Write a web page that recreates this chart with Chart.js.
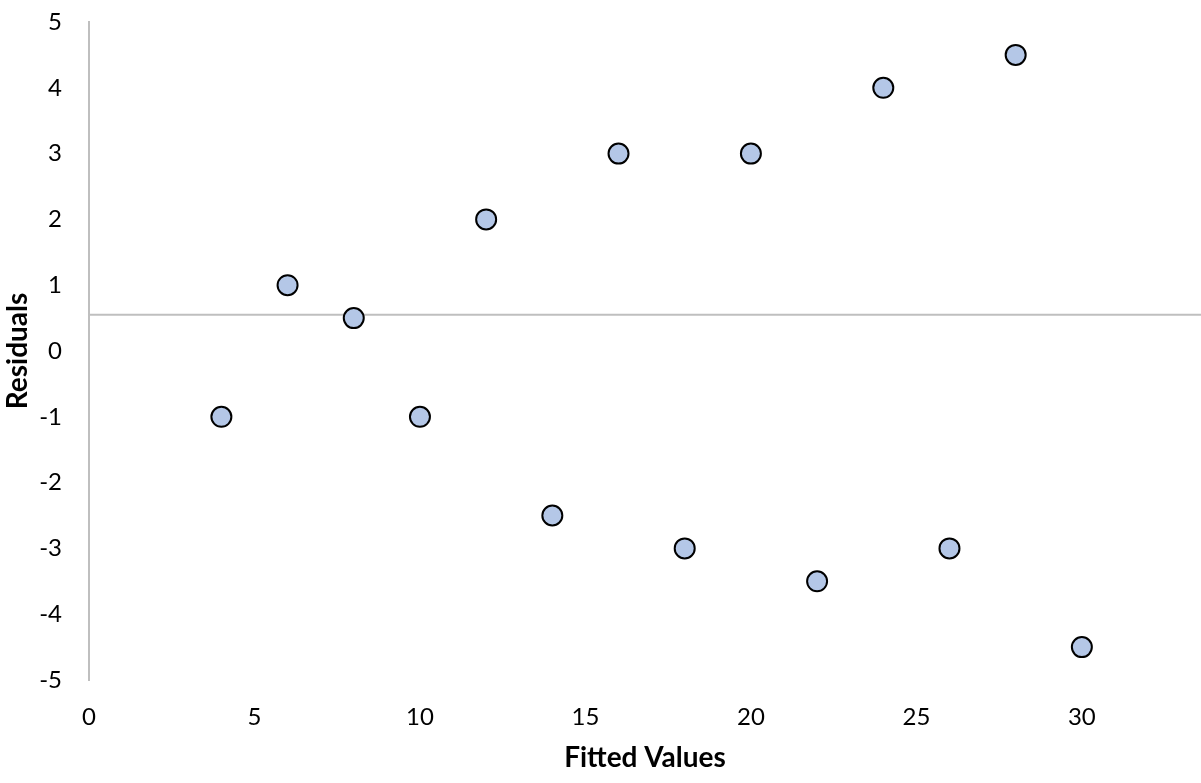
<!DOCTYPE html>
<html>
<head>
<meta charset="utf-8">
<script src="https://cdn.jsdelivr.net/npm/chart.js@4.4.0/dist/chart.umd.min.js"></script>
<style>
html,body{margin:0;padding:0;background:#fff;}
#wrap{width:1201px;height:783px;position:relative;}
</style>
</head>
<body>
<div id="wrap"><canvas id="c" width="1201" height="783"></canvas></div>
<script>
const fittedValues = [4, 6, 8, 10, 12, 14, 16, 18, 20, 22, 24, 26, 28, 30];
const residuals = [-1, 1, 0.5, -1, 2, -2.5, 3, -3, 3, -3.5, 4, -3, 4.5, -4.5];
const xTicks = [0, 5, 10, 15, 20, 25, 30];
const yTicks = [-5, -4, -3, -2, -1, 0, 1, 2, 3, 4, 5];
const xRange = [0, 33.6];
const yRange = [-5, 5];
const refLineY = 0.55;

const FONT = "Lato, 'Open Sans', sans-serif";

new Chart(document.getElementById('c'), {
  data: {
    datasets: [
      {
        type: 'scatter',
        data: fittedValues.map((x, i) => ({x: x, y: residuals[i]})),
        backgroundColor: '#b4c7e7',
        borderColor: '#000000',
        borderWidth: 2,
        pointRadius: 10,
        pointHoverRadius: 10,
        order: 1
      },
      {
        type: 'line',
        data: xRange.map(x => ({x: x, y: refLineY})),
        borderColor: '#bfbfbf',
        borderWidth: 2,
        pointRadius: 0,
        fill: false,
        order: 2
      }
    ]
  },
  options: {
    responsive: false,
    animation: false,
    layout: {autoPadding: false, padding: {top: 22, right: 0, left: 0, bottom: 0}},
    plugins: {legend: {display: false}, tooltip: {enabled: false}},
    scales: {
      x: {
        type: 'linear',
        min: xRange[0], max: xRange[1],
        afterBuildTicks: s => { s.ticks = xTicks.map(v => ({value: v})); },
        afterFit: s => { s.height = 103; s.paddingLeft = 0; s.paddingRight = 0; },
        grid: {display: false},
        border: {display: false},
        ticks: {color: '#000', font: {family: FONT, size: 24}, padding: 15, maxRotation: 0},
        title: {display: true, text: 'Fitted Values', color: '#000', font: {family: FONT, size: 28, weight: 'bold'}, padding: {top: 0, bottom: 8}}
      },
      y: {
        type: 'linear',
        min: yRange[0], max: yRange[1],
        afterBuildTicks: s => { s.ticks = yTicks.map(v => ({value: v})); },
        afterFit: s => { s.width = 89; s.paddingTop = 0; s.paddingBottom = 0; },
        grid: {display: true, drawOnChartArea: false, drawTicks: false},
        border: {display: true, color: '#bfbfbf', width: 2},
        ticks: {color: '#000', font: {family: FONT, size: 24}, padding: 27},
        title: {display: true, text: 'Residuals', color: '#000', font: {family: FONT, size: 28, weight: 'bold'}, padding: {top: 1, bottom: 0}}
      }
    }
  }
});
</script>
</body>
</html>
